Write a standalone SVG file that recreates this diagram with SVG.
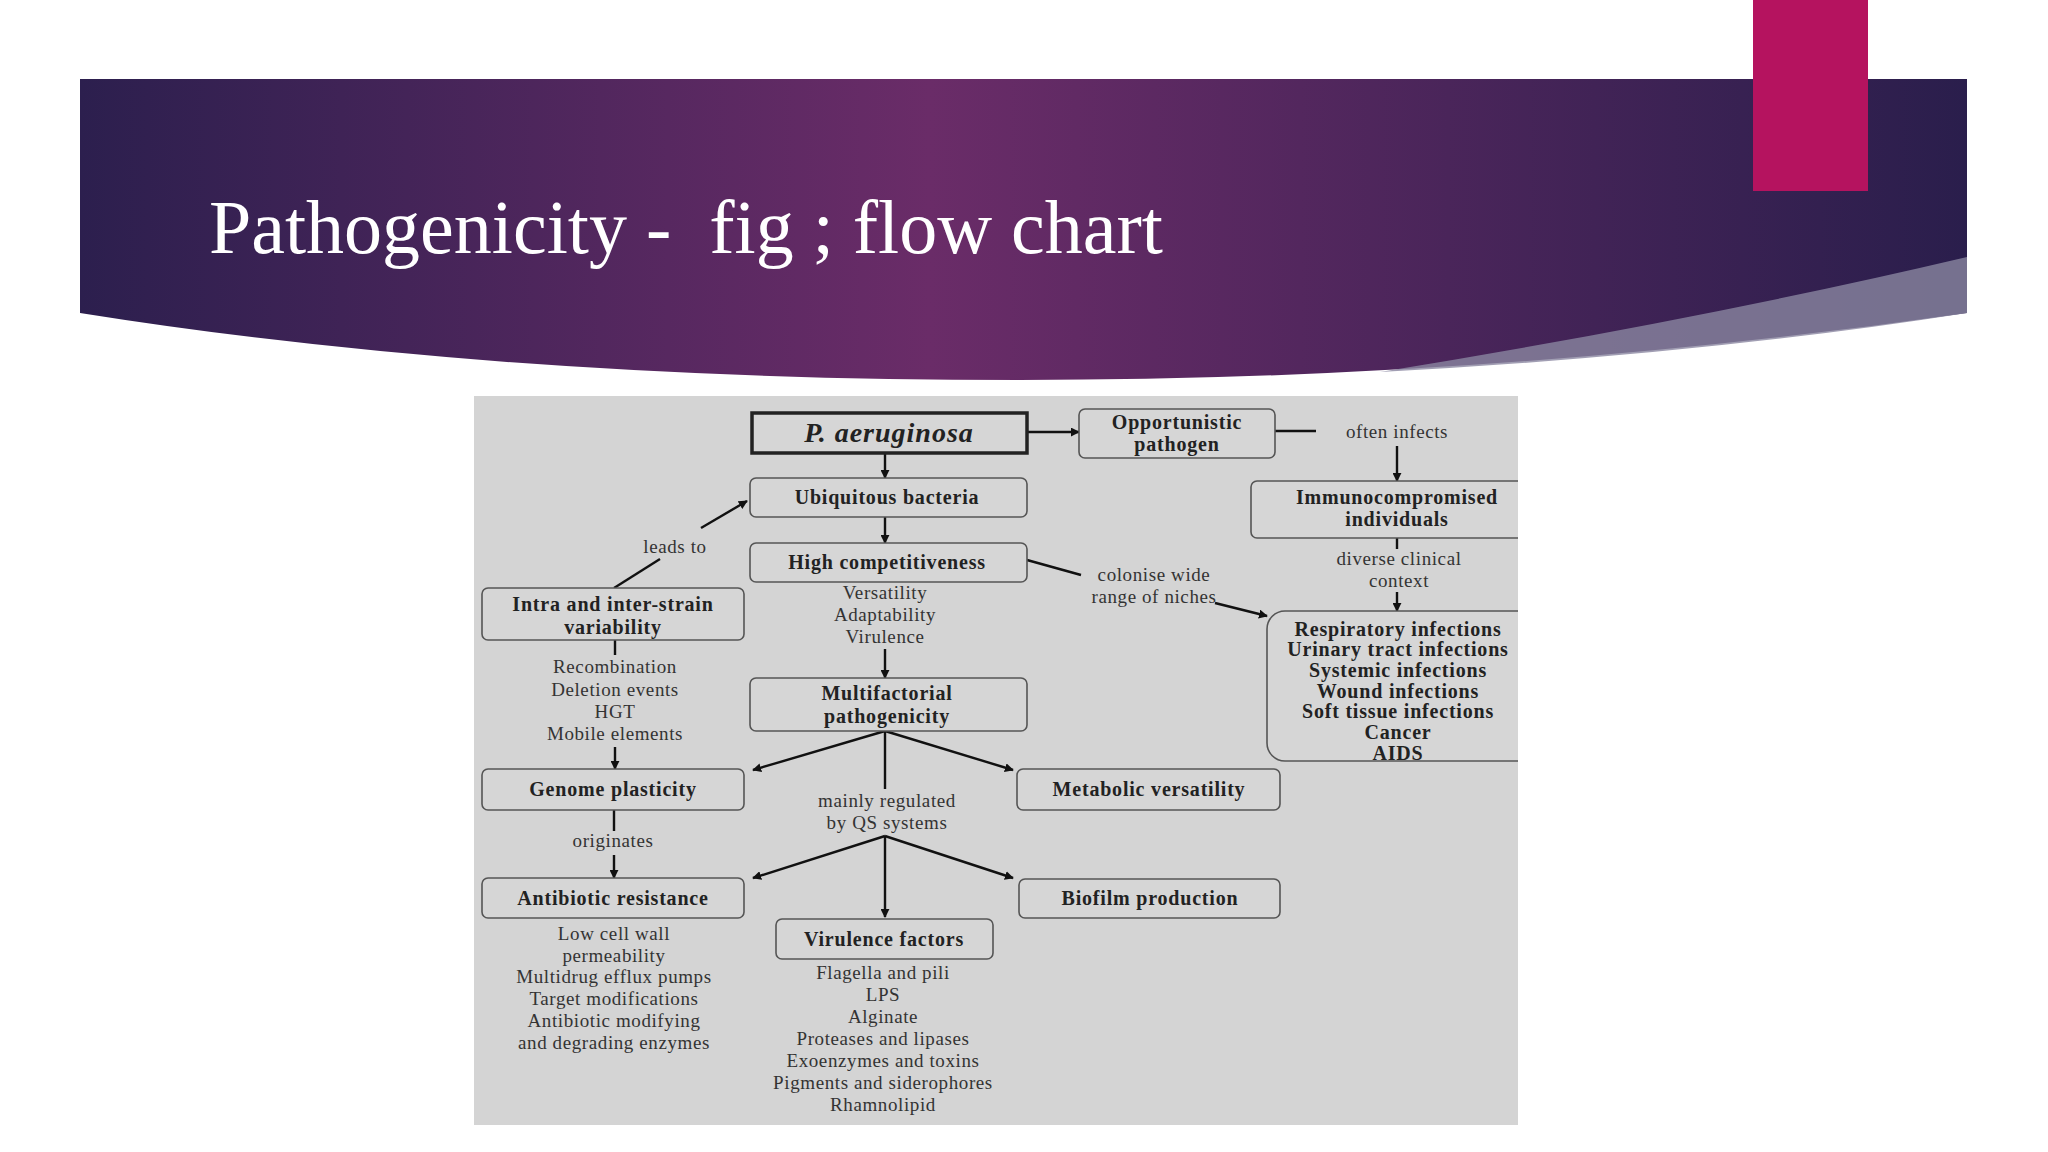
<svg xmlns="http://www.w3.org/2000/svg" width="2048" height="1152" viewBox="0 0 2048 1152">
<defs>
<linearGradient id="band" x1="0" y1="0" x2="1" y2="0">
<stop offset="0" stop-color="#2c1f4e"/><stop offset="0.45" stop-color="#6a2c68"/><stop offset="1" stop-color="#2a1e4c"/>
</linearGradient>
<clipPath id="fig"><rect x="474" y="396" width="1044" height="729"/></clipPath>
<marker id="ah" viewBox="0 0 10 10" refX="9" refY="5" markerWidth="9" markerHeight="9" markerUnits="userSpaceOnUse" orient="auto"><path d="M0,0 L10,5 L0,10 Z" fill="#111"/></marker>
<style>
.n rect{fill:#d6d6d6;stroke:#555;stroke-width:1.6}
.b{font-family:"Liberation Serif",serif;font-weight:bold;font-size:20px;letter-spacing:0.8px;fill:#222;text-anchor:middle}
.t{font-family:"Liberation Serif",serif;font-size:19px;letter-spacing:0.6px;fill:#333;text-anchor:middle}
.c line{stroke:#111;stroke-width:2.4;fill:none}
.a{marker-end:url(#ah)}
</style>
</defs>
<rect width="2048" height="1152" fill="#fff"/>
<path d="M80,79 H1967 V313 Q1500,380 1020,380 Q500,380 80,313 Z" fill="url(#band)"/>
<path d="M1380,372 Q1700,320 1967,257 V313 Q1700,355 1380,372 Z" fill="#8a86a0" opacity="0.8"/>
<rect x="1753" y="0" width="115" height="191" fill="#b5135f"/>
<text x="209" y="253" font-family="Liberation Serif,serif" font-size="76" fill="#fff" xml:space="preserve">Pathogenicity -  fig ; flow chart</text>
<rect x="474" y="396" width="1044" height="729" fill="#d4d4d4"/>

<g class="c">
<line class="a" x1="1027" y1="432" x2="1079" y2="432"/>
<line x1="1275" y1="431" x2="1316" y2="431"/>
<line class="a" x1="1397" y1="446" x2="1397" y2="481"/>
<line x1="1397" y1="538" x2="1397" y2="549"/>
<line class="a" x1="1397" y1="592" x2="1397" y2="611"/>
<line class="a" x1="885" y1="453" x2="885" y2="478"/>
<line class="a" x1="885" y1="517" x2="885" y2="543"/>
<line class="a" x1="885" y1="649" x2="885" y2="678"/>
<line x1="1027" y1="560" x2="1081" y2="575"/>
<line class="a" x1="1215" y1="603" x2="1267" y2="616"/>
<line x1="614" y1="588" x2="660" y2="559"/>
<line class="a" x1="701" y1="528" x2="747" y2="501"/>
<line x1="615" y1="640" x2="615" y2="655"/>
<line class="a" x1="615" y1="747" x2="615" y2="769"/>
<line x1="614" y1="810" x2="614" y2="831"/>
<line class="a" x1="614" y1="855" x2="614" y2="878"/>
<line class="a" x1="885" y1="731" x2="753" y2="770"/>
<line class="a" x1="885" y1="731" x2="1013" y2="770"/>
<line x1="885" y1="731" x2="885" y2="789"/>
<line class="a" x1="885" y1="836" x2="753" y2="878"/>
<line class="a" x1="885" y1="836" x2="1013" y2="878"/>
<line class="a" x1="885" y1="836" x2="885" y2="917"/>
</g>

<g id="paer"><rect x="752" y="413" width="275" height="40" fill="#d6d6d6" stroke="#222" stroke-width="3.5"/><text x="889" y="442" font-family="Liberation Serif,serif" font-weight="bold" font-style="italic" font-size="28" letter-spacing="1" fill="#222" text-anchor="middle">P. aeruginosa</text></g>
<g id="opp" class="n"><rect x="1079" y="409" width="196" height="49" rx="6"/><text class="b" x="1177" y="429">Opportunistic</text><text class="b" x="1177" y="451">pathogen</text></g>
<g id="often"><text class="t" x="1397" y="438">often infects</text></g>
<g id="immuno" class="n" clip-path="url(#fig)"><rect x="1251" y="481" width="290" height="57" rx="6"/><text class="b" x="1397" y="504">Immunocompromised</text><text class="b" x="1397" y="526">individuals</text></g>
<g id="diverse"><text class="t" x="1399" y="565">diverse clinical</text><text class="t" x="1399" y="587">context</text></g>
<g id="infections" class="n" clip-path="url(#fig)"><rect x="1267" y="611" width="275" height="150" rx="18"/>
<text class="b" x="1398" y="636" font-size="18">Respiratory infections</text><text class="b" x="1398" y="656" font-size="18">Urinary tract infections</text><text class="b" x="1398" y="677" font-size="18">Systemic infections</text><text class="b" x="1398" y="698" font-size="18">Wound infections</text><text class="b" x="1398" y="718" font-size="18">Soft tissue infections</text><text class="b" x="1398" y="739" font-size="18">Cancer</text><text class="b" x="1398" y="760" font-size="18">AIDS</text></g>
<g id="ubiq" class="n"><rect x="750" y="478" width="277" height="39" rx="6"/><text class="b" x="887" y="504">Ubiquitous bacteria</text></g>
<g id="high" class="n"><rect x="750" y="543" width="277" height="39" rx="6"/><text class="b" x="887" y="569">High competitiveness</text></g>
<g id="vav"><text class="t" x="885" y="599">Versatility</text><text class="t" x="885" y="621">Adaptability</text><text class="t" x="885" y="643">Virulence</text></g>
<g id="colonise"><text class="t" x="1154" y="581">colonise wide</text><text class="t" x="1154" y="603">range of niches</text></g>
<g id="multi" class="n"><rect x="750" y="678" width="277" height="53" rx="6"/><text class="b" x="887" y="700">Multifactorial</text><text class="b" x="887" y="723">pathogenicity</text></g>
<g id="intra" class="n"><rect x="482" y="588" width="262" height="52" rx="6"/><text class="b" x="613" y="611">Intra and inter-strain</text><text class="b" x="613" y="634">variability</text></g>
<g id="leads"><text class="t" x="675" y="553">leads to</text></g>
<g id="recomb"><text class="t" x="615" y="673">Recombination</text><text class="t" x="615" y="696">Deletion events</text><text class="t" x="615" y="718">HGT</text><text class="t" x="615" y="740">Mobile elements</text></g>
<g id="genome" class="n"><rect x="482" y="769" width="262" height="41" rx="6"/><text class="b" x="613" y="796">Genome plasticity</text></g>
<g id="orig"><text class="t" x="613" y="847">originates</text></g>
<g id="metab" class="n"><rect x="1017" y="769" width="263" height="41" rx="6"/><text class="b" x="1149" y="796">Metabolic versatility</text></g>
<g id="qs"><text class="t" x="887" y="807">mainly regulated</text><text class="t" x="887" y="829">by QS systems</text></g>
<g id="anti" class="n"><rect x="482" y="878" width="262" height="40" rx="6"/><text class="b" x="613" y="905">Antibiotic resistance</text></g>
<g id="antilist"><text class="t" x="614" y="940">Low cell wall</text><text class="t" x="614" y="962">permeability</text><text class="t" x="614" y="983">Multidrug efflux pumps</text><text class="t" x="614" y="1005">Target modifications</text><text class="t" x="614" y="1027">Antibiotic modifying</text><text class="t" x="614" y="1049">and degrading enzymes</text></g>
<g id="biofilm" class="n"><rect x="1019" y="879" width="261" height="39" rx="6"/><text class="b" x="1150" y="905">Biofilm production</text></g>
<g id="vf" class="n"><rect x="776" y="919" width="217" height="40" rx="6"/><text class="b" x="884" y="946">Virulence factors</text></g>
<g id="vflist"><text class="t" x="883" y="979">Flagella and pili</text><text class="t" x="883" y="1001">LPS</text><text class="t" x="883" y="1023">Alginate</text><text class="t" x="883" y="1045">Proteases and lipases</text><text class="t" x="883" y="1067">Exoenzymes and toxins</text><text class="t" x="883" y="1089">Pigments and siderophores</text><text class="t" x="883" y="1111">Rhamnolipid</text></g>
</svg>
